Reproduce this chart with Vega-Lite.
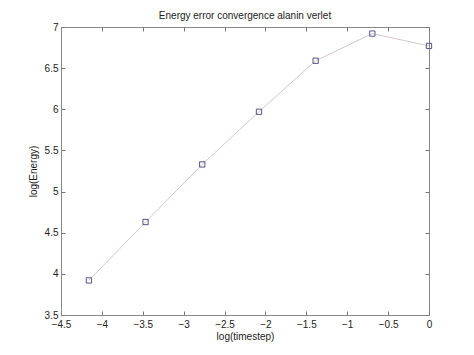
{
  "$schema": "https://vega.github.io/schema/vega-lite/v6.json",
  "width": 368,
  "height": 288,
  "autosize": {"type": "none"},
  "padding": {"left": 61, "top": 27, "right": 45, "bottom": 40},
  "background": "white",
  "title": {"text": "Energy error convergence alanin verlet", "font": "Liberation Sans", "fontSize": 10, "fontWeight": "normal", "color": "#222", "offset": 1},
  "config": {
    "view": {"stroke": "#888", "strokeWidth": 1},
    "axis": {
      "domainColor": "#888", "grid": false,
      "labelFont": "Liberation Sans", "labelFontSize": 10, "labelColor": "#222",
      "titleFont": "Liberation Sans", "titleFontSize": 10, "titleFontWeight": "normal", "titleColor": "#222"
    }
  },
  "data": {"values": [
    {"x": -4.159, "y": 3.92},
    {"x": -3.466, "y": 4.63},
    {"x": -2.773, "y": 5.33},
    {"x": -2.079, "y": 5.97},
    {"x": -1.386, "y": 6.59},
    {"x": -0.693, "y": 6.92},
    {"x": 0.0, "y": 6.77}
  ]},
  "layer": [
    {"mark": {"type": "line", "color": "#d9c6c6", "strokeWidth": 1},
      "encoding": {
        "x": {"field": "x", "type": "quantitative", "scale": {"domain": [-4.5, 0], "nice": false, "zero": false},
          "axis": {"orient": "bottom", "title": "log(timestep)", "ticks": true, "tickSize": -4, "tickWidth": 1, "tickColor": "#777", "values": [-4.5,-4,-3.5,-3,-2.5,-2,-1.5,-1,-0.5,0], "format": "~g", "labelPadding": 8, "titlePadding": 2, "labelFlush": false}},
        "y": {"field": "y", "type": "quantitative", "scale": {"domain": [3.5, 7], "nice": false, "zero": false},
          "axis": {"orient": "left", "title": "log(Energy)", "ticks": true, "tickSize": -4, "tickWidth": 1, "tickColor": "#777", "values": [3.5,4,4.5,5,5.5,6,6.5,7], "format": "~g", "labelPadding": 7, "titlePadding": 6, "labelFlush": false}}
      }},
    {"mark": {"type": "point", "shape": "square", "filled": false, "stroke": "#55558a", "strokeWidth": 1, "size": 28, "opacity": 1},
      "encoding": {
        "x": {"field": "x", "type": "quantitative", "axis": null},
        "y": {"field": "y", "type": "quantitative", "axis": null}
      }},
    {"mark": {"type": "point", "opacity": 0},
      "encoding": {
        "x": {"field": "x", "type": "quantitative",
          "axis": {"orient": "top", "title": null, "labels": false, "domain": false, "ticks": true, "tickSize": -4, "tickWidth": 1, "tickColor": "#777", "values": [-4.5,-4,-3.5,-3,-2.5,-2,-1.5,-1,-0.5,0]}},
        "y": {"field": "y", "type": "quantitative",
          "axis": {"orient": "right", "title": null, "labels": false, "domain": false, "ticks": true, "tickSize": -4, "tickWidth": 1, "tickColor": "#777", "values": [3.5,4,4.5,5,5.5,6,6.5,7]}}
      }}
  ],
  "resolve": {"axis": {"x": "independent", "y": "independent"}}
}
